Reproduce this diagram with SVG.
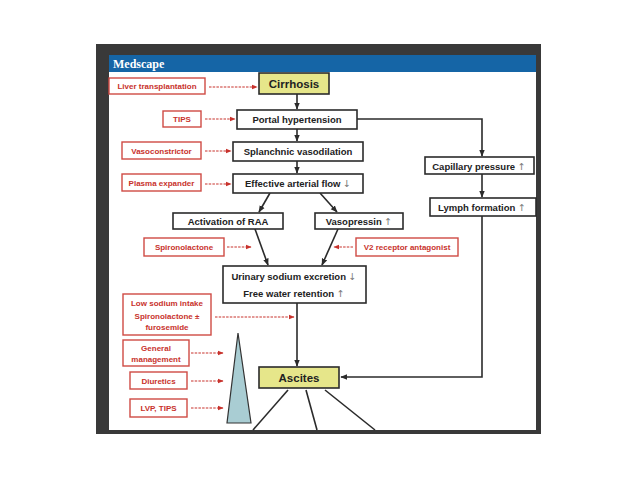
<svg xmlns="http://www.w3.org/2000/svg" width="638" height="478" viewBox="0 0 638 478">
<defs>
<style>
.nb{fill:#fff;stroke:#2b2b2b;stroke-width:1.6}
.yb{fill:#e6e68a;stroke:#2b2b2b;stroke-width:1.6}
.rb{fill:#fff;stroke:#cf4a44;stroke-width:1.4}
.nt{font-family:"Liberation Sans",Arial,sans-serif;font-weight:bold;font-size:9.5px;fill:#222;text-anchor:middle}
.bt{font-family:"Liberation Sans",Arial,sans-serif;font-weight:bold;font-size:11.5px;fill:#222;text-anchor:middle}
.rt{font-family:"Liberation Sans",Arial,sans-serif;font-weight:bold;font-size:8px;fill:#c8322c;text-anchor:middle}
.ar{font-family:"DejaVu Sans",sans-serif;font-weight:normal;fill:#777}
.ce{fill:none;stroke:#2b2b2b;stroke-width:1.6}
.re{fill:none;stroke:#c8322c;stroke-width:1.1;stroke-dasharray:2.5 1.2}
</style>
<marker id="ah" markerUnits="userSpaceOnUse" markerWidth="7" markerHeight="7" viewBox="0 0 10 10" refX="9" refY="5" orient="auto"><path d="M0,1 L10,5 L0,9 Z" fill="#2b2b2b"/></marker>
<marker id="rh" markerUnits="userSpaceOnUse" markerWidth="6" markerHeight="6" viewBox="0 0 10 10" refX="9" refY="5" orient="auto"><path d="M0,1 L10,5 L0,9 Z" fill="#c8322c"/></marker>
</defs>
<rect x="0" y="0" width="638" height="478" fill="#fff"/>
<g id="frame">
<rect x="96" y="44" width="445" height="390" fill="#393939"/>
<rect x="109" y="55" width="427" height="375" fill="#fff"/>
<rect x="109" y="55" width="427" height="17" fill="#1565a6"/>
<text x="113" y="67.5" font-family="Liberation Serif,serif" font-weight="bold" font-size="12" fill="#fff">Medscape</text>
</g>
<g id="connectors">
<path class="ce" d="M297,94 V109" marker-end="url(#ah)"/>
<path class="ce" d="M297,129 V141" marker-end="url(#ah)"/>
<path class="ce" d="M297,161 V173" marker-end="url(#ah)"/>
<path class="ce" d="M357,119 H482 V156" marker-end="url(#ah)"/>
<path class="ce" d="M482,174 V197" marker-end="url(#ah)"/>
<path class="ce" d="M482,216 V377 H341" marker-end="url(#ah)"/>
<path class="ce" d="M270,193 L259,212" marker-end="url(#ah)"/>
<path class="ce" d="M320,193 L337,212" marker-end="url(#ah)"/>
<path class="ce" d="M255,229 L268,265" marker-end="url(#ah)"/>
<path class="ce" d="M338,229 L322,265" marker-end="url(#ah)"/>
<path class="ce" d="M297,303 V366" marker-end="url(#ah)"/>
<path class="ce" d="M288,390 L253,430"/>
<path class="ce" d="M306,390 L317,430"/>
<path class="ce" d="M325,390 L375,430"/>
<path class="re" d="M209,87 H257" marker-end="url(#rh)"/>
<path class="re" d="M205,119 H235" marker-end="url(#rh)"/>
<path class="re" d="M205,151 H231" marker-end="url(#rh)"/>
<path class="re" d="M205,184 H231" marker-end="url(#rh)"/>
<path class="re" d="M227,247 H251" marker-end="url(#rh)"/>
<path class="re" d="M353,247 H334" marker-end="url(#rh)"/>
<path class="re" d="M215,317 H294" marker-end="url(#rh)"/>
<path class="re" d="M191,353 H223" marker-end="url(#rh)"/>
<path class="re" d="M191,381 H223" marker-end="url(#rh)"/>
<path class="re" d="M191,408 H223" marker-end="url(#rh)"/>
</g>
<g id="cirrhosis"><rect class="yb" x="259" y="73" width="70" height="21"/><text class="bt" x="294" y="88">Cirrhosis</text></g>
<g id="portal"><rect class="nb" x="237" y="110" width="120" height="19"/><text class="nt" x="297" y="123">Portal hypertension</text></g>
<g id="splanchnic"><rect class="nb" x="233" y="142" width="130" height="19"/><text class="nt" x="298" y="155">Splanchnic vasodilation</text></g>
<g id="effective"><rect class="nb" x="233" y="174" width="130" height="19"/><text class="nt" x="298" y="187">Effective arterial flow <tspan class="ar">↓</tspan></text></g>
<g id="capillary"><rect class="nb" x="425" y="157" width="109" height="17"/><text class="nt" x="479" y="169.5">Capillary pressure <tspan class="ar">↑</tspan></text></g>
<g id="lymph"><rect class="nb" x="430" y="198" width="106" height="18"/><text class="nt" x="482" y="210.5">Lymph formation <tspan class="ar">↑</tspan></text></g>
<g id="raa"><rect class="nb" x="173" y="213" width="110" height="16"/><text class="nt" x="228" y="224.5">Activation of RAA</text></g>
<g id="vasopressin"><rect class="nb" x="315" y="213" width="88" height="16"/><text class="nt" x="359" y="224.5">Vasopressin <tspan class="ar">↑</tspan></text></g>
<g id="urinary"><rect class="nb" x="223" y="266" width="143" height="37"/><text class="nt" x="294" y="280">Urinary sodium excretion <tspan class="ar">↓</tspan></text><text class="nt" x="294" y="297">Free water retention <tspan class="ar">↑</tspan></text></g>
<g id="ascites"><rect class="yb" x="259" y="367" width="80" height="21"/><text class="bt" x="299" y="382">Ascites</text></g>
<g id="triangle"><path d="M238,333 L251,423 L227,423 Z" fill="#a9cdd3" stroke="#333" stroke-width="1.2"/></g>
<g id="liver"><rect class="rb" x="109" y="78" width="96" height="16"/><text class="rt" x="157" y="89">Liver transplantation</text></g>
<g id="tips"><rect class="rb" x="163" y="111" width="38" height="16"/><text class="rt" x="182" y="122">TIPS</text></g>
<g id="vasoconstrictor"><rect class="rb" x="122" y="142" width="79" height="17"/><text class="rt" x="161.5" y="153.5">Vasoconstrictor</text></g>
<g id="plasma"><rect class="rb" x="122" y="174" width="79" height="17"/><text class="rt" x="161.5" y="185.5">Plasma expander</text></g>
<g id="spironolactone"><rect class="rb" x="144" y="238" width="80" height="18"/><text class="rt" x="184" y="250">Spironolactone</text></g>
<g id="v2"><rect class="rb" x="356" y="238" width="102" height="18"/><text class="rt" x="407" y="250">V2 receptor antagonist</text></g>
<g id="lowsodium"><rect class="rb" x="123" y="294" width="88" height="41"/><text class="rt" x="167" y="305.5">Low sodium intake</text><text class="rt" x="167" y="319">Spironolactone ±</text><text class="rt" x="167" y="329.5">furosemide</text></g>
<g id="general"><rect class="rb" x="123" y="340" width="66" height="26"/><text class="rt" x="156" y="351">General</text><text class="rt" x="156" y="361.5">management</text></g>
<g id="diuretics"><rect class="rb" x="130" y="372" width="57" height="17"/><text class="rt" x="158.5" y="383.5">Diuretics</text></g>
<g id="lvp"><rect class="rb" x="130" y="399" width="57" height="18"/><text class="rt" x="158.5" y="411">LVP, TIPS</text></g>
</svg>
